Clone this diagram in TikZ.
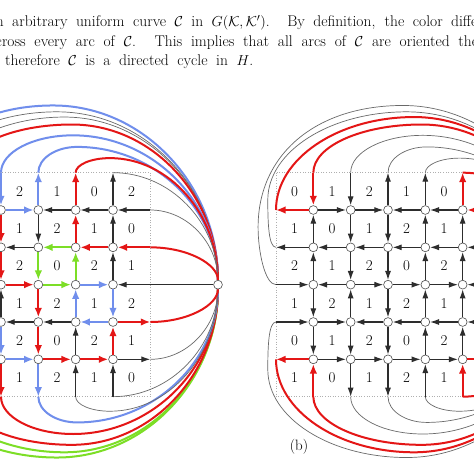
\documentclass[tikz,border=0pt]{standalone}
\usetikzlibrary{arrows.meta}
\definecolor{cred}{RGB}{228,22,22}
\definecolor{cblue}{RGB}{112,142,236}
\definecolor{cgreen}{RGB}{124,222,38}
\definecolor{cblack}{RGB}{45,45,45}
\definecolor{cgrey}{RGB}{105,105,105}
\definecolor{cdot}{RGB}{175,175,175}
\tikzset{
  vtx/.style={circle, draw=cblack!85, fill=white, line width=0.6pt, minimum size=8.8pt, inner sep=0pt},
  eK/.style={draw=cblack, line width=1.1pt, -{Latex[length=9pt,width=6pt]}},
  eR/.style={draw=cred, line width=2.2pt, -{Latex[length=9.5pt,width=7.5pt]}},
  eB/.style={draw=cblue, line width=2.2pt, -{Latex[length=9.5pt,width=7.5pt]}},
  eG/.style={draw=cgreen, line width=2.2pt, -{Latex[length=9.5pt,width=7.5pt]}},
  cK/.style={draw=cgrey, line width=0.7pt},
  cR/.style={draw=cred, line width=2pt},
  cB/.style={draw=cblue, line width=2pt},
  cG/.style={draw=cgreen, line width=2pt},
  lbl/.style={font=\fontsize{15}{15}\selectfont, inner sep=0pt},
  txt/.style={font=\fontsize{15.5}{15.5}\selectfont, anchor=base west, inner sep=0pt},
}
\newcommand{\edg}[3]{\draw[#1] (#2) -- (#3);}
\newcommand{\Cell}[3]{\node[lbl] (c#1-#2) at ({#1+0.5},{#2-0.5}) {#3};}
\newcommand{\MakeGrid}{%
  \draw[cdot, line width=0.6pt, dash pattern=on 1pt off 1.6pt] (-2,-1) rectangle (4,5);
  \foreach \i in {-1,...,3} {\coordinate (T\i) at (\i,-1); \coordinate (B\i) at (\i,5);}
  \foreach \j in {0,...,4} {\coordinate (L\j) at (-2,\j); \coordinate (R\j) at (4,\j);}
  \foreach \i in {-1,...,3} {\foreach \j in {0,...,4} {\node[vtx] (v\i-\j) at (\i,\j) {};}}
  \node[vtx] (ap) at (5.8125,2) {};
}
% curve shapes (top)
\newcommand{\cvTthree}[1]{\draw[#1] (T3) .. controls (4.55,-1) and (5.81,0.344) .. (ap);}
\newcommand{\cvTtwo}[1]{\draw[#1] (T2) .. controls (2,-1.215) and (2.41,-1.39) .. (2.92,-1.39) .. controls (4.515,-1.39) and (5.81,0.129) .. (ap);}
\newcommand{\cvTone}[1]{\draw[#1] (T1) .. controls (1,-1.381) and (1.466,-1.69) .. (2.04,-1.69) .. controls (4.121,-1.69) and (5.81,-0.037) .. (ap);}
\newcommand{\cvTzero}[1]{\draw[#1] (T0) .. controls (0,-1.552) and (0.865,-2) .. (1.93,-2) .. controls (4.072,-2) and (5.81,-0.208) .. (ap);}
\newcommand{\cvTm}[1]{\draw[#1] (T-1) .. controls (-1,-1.712) and (0.299,-2.29) .. (1.9,-2.29) .. controls (4.058,-2.29) and (5.81,-0.368) .. (ap);}
\newcommand{\cvLzero}[1]{\draw[#1] (L0) .. controls (-2,-1.374) and (-0.342,-2.49) .. (1.7,-2.49) .. controls (3.969,-2.49) and (5.81,-0.478) .. (ap);}
\newcommand{\cvLone}[1]{\draw[#1] (L1) .. controls (-2.2,1) and (-2.22,0.33) .. (-2.22,-0.27) .. controls (-2.22,-1.573) and (-0.553,-2.63) .. (1.5,-2.63) .. controls (3.879,-2.63) and (5.81,-0.556) .. (ap);}
\newcommand{\cvLtwo}[1]{\draw[#1] (L2) .. controls (-2.3,2) and (-2.48,1.1) .. (-2.48,0.46) .. controls (-2.48,-1.496) and (-0.928,-2.8) .. (1.4,-2.8) .. controls (3.834,-2.8) and (5.81,-0.65) .. (ap);}
\newcommand{\cvRzero}[1]{\draw[#1] (R0) .. controls (5,0) and (5.81,0.896) .. (ap);}
\newcommand{\cvRone}[1]{\draw[#1] (R1) .. controls (5,1) and (5.81,1.448) .. (ap);}
% curve shapes (bottom)
\newcommand{\cvBthree}[1]{\draw[#1] (B3) .. controls (4.55,5) and (5.81,3.656) .. (ap);}
\newcommand{\cvBtwo}[1]{\draw[#1] (B2) .. controls (2,5.215) and (2.41,5.39) .. (2.92,5.39) .. controls (4.515,5.39) and (5.81,3.871) .. (ap);}
\newcommand{\cvBone}[1]{\draw[#1] (B1) .. controls (1,5.381) and (1.466,5.69) .. (2.04,5.69) .. controls (4.121,5.69) and (5.81,4.037) .. (ap);}
\newcommand{\cvBzero}[1]{\draw[#1] (B0) .. controls (0,5.552) and (0.865,6) .. (1.93,6) .. controls (4.072,6) and (5.81,4.208) .. (ap);}
\newcommand{\cvBm}[1]{\draw[#1] (B-1) .. controls (-1,5.712) and (0.299,6.29) .. (1.9,6.29) .. controls (4.058,6.29) and (5.81,4.368) .. (ap);}
\newcommand{\cvLfour}[1]{\draw[#1] (L4) .. controls (-2,5.374) and (-0.342,6.49) .. (1.7,6.49) .. controls (3.969,6.49) and (5.81,4.478) .. (ap);}
\newcommand{\cvLthree}[1]{\draw[#1] (L3) .. controls (-2.2,3) and (-2.22,3.67) .. (-2.22,4.27) .. controls (-2.22,5.573) and (-0.553,6.63) .. (1.5,6.63) .. controls (3.879,6.63) and (5.81,4.556) .. (ap);}
\newcommand{\cvRfour}[1]{\draw[#1] (R4) .. controls (5,4) and (5.81,3.104) .. (ap);}
\newcommand{\cvRthree}[1]{\draw[#1] (R3) .. controls (5,3) and (5.81,2.552) .. (ap);}

\begin{document}
\begin{tikzpicture}[x=1pt,y=-1pt]
\useasboundingbox (0,0) rectangle (474,474);
\clip (0,0) rectangle (474,474);
\fill[white] (0,0) rectangle (474,474);

\node[txt] (t1) at (-11.5,26.5) {\hbox to 521pt{an arbitrary uniform curve $\mathcal{C}$ in $G(\mathcal{K},\mathcal{K}')$. By definition, the color difference}};
\node[txt] (t2) at (-11.6,46) {\hbox to 489.6pt{across every arc of $\mathcal{C}$. This implies that all arcs of $\mathcal{C}$ are oriented the}};
\node[txt] (t3) at (5,65.5) {\hbox to 248pt{therefore $\mathcal{C}$ is a directed cycle in $H$.}};
\node[font=\fontsize{15}{15}\selectfont, inner sep=0pt] (lb) at (299,447) {(b)};

% ---------------- left graph ----------------
\begin{scope}[shift={(1,210)}, x=37.333pt, y=-37.333pt, name prefix=a-]
\MakeGrid
\foreach \row [count=\r from 0] in {{2,1,0,2},{1,2,1,0},{2,0,2,1},{1,2,1,2},{2,0,2,1},{1,2,1,0}}
  {\foreach \v [count=\c from 0] in \row {\Cell{\c}{\r}{\v}}}
% curves
\cvLtwo{cB} \cvLone{cK} \cvLzero{cK} \cvTm{cR} \cvTzero{cB} \cvTone{cB} \cvTtwo{cR} \cvTthree{cK} \cvRzero{cK} \cvRone{cR}
\cvLthree{cG} \cvLfour{cG} \cvBm{cR} \cvBzero{cR} \cvBone{cB} \cvBtwo{cK} \cvBthree{cK} \cvRfour{cK} \cvRthree{cR}
% horizontal
\edg{eB}{v0-0}{v1-0} \edg{eK}{v2-0}{v1-0} \edg{eK}{v3-0}{v2-0} \edg{eK}{R0}{v3-0}
\edg{eK}{v1-1}{v0-1} \edg{eG}{v2-1}{v1-1} \edg{eR}{v3-1}{v2-1} \edg{eR}{R1}{v3-1}
\edg{eR}{v0-2}{v1-2} \edg{eG}{v1-2}{v2-2} \edg{eB}{v2-2}{v3-2} \edg{eK}{ap}{v3-2}
\edg{eK}{v1-3}{v0-3} \edg{eK}{v2-3}{v1-3} \edg{eB}{v3-3}{v2-3} \edg{eR}{v3-3}{R3}
\edg{eB}{v0-4}{v1-4} \edg{eR}{v1-4}{v2-4} \edg{eR}{v2-4}{v3-4} \edg{eK}{v3-4}{R4}
% vertical
\edg{eB}{T0}{v0-0} \edg{eR}{v0-0}{v0-1} \edg{eR}{v0-1}{v0-2} \edg{eK}{v0-3}{v0-2} \edg{eB}{v0-3}{v0-4} \edg{eR}{v0-4}{B0}
\edg{eB}{v1-0}{T1} \edg{eK}{v1-0}{v1-1} \edg{eG}{v1-1}{v1-2} \edg{eR}{v1-2}{v1-3} \edg{eR}{v1-3}{v1-4} \edg{eB}{v1-4}{B1}
\edg{eR}{v2-0}{T2} \edg{eR}{v2-1}{v2-0} \edg{eG}{v2-2}{v2-1} \edg{eB}{v2-3}{v2-2} \edg{eK}{v2-4}{v2-3} \edg{eK}{B2}{v2-4}
\edg{eK}{v3-0}{T3} \edg{eK}{v3-1}{v3-0} \edg{eK}{v3-2}{v3-1} \edg{eB}{v3-2}{v3-3} \edg{eR}{v3-4}{v3-3} \edg{eK}{B3}{v3-4}
\end{scope}

% ---------------- right graph ----------------
\begin{scope}[shift={(350.667,210)}, x=37.333pt, y=-37.333pt, name prefix=b-]
\MakeGrid
\foreach \row [count=\r from 0] in {{0,1,2,1,0},{1,0,1,2,1},{2,1,2,0,2},{1,2,1,2,1},{0,1,2,0,2},{1,0,1,2,1}}
  {\foreach \v [count=\c from -2] in \row {\Cell{\c}{\r}{\v}}}
% curves
\cvLtwo{cK} \cvLone{cK} \cvLzero{cR} \cvTm{cR} \cvTzero{cK} \cvTone{cK} \cvTtwo{cK} \cvTthree{cR}
\cvLthree{cK} \cvLfour{cR} \cvBm{cR} \cvBzero{cK} \cvBone{cK} \cvBtwo{cK} \cvBthree{cR}
% horizontal
\edg{eR}{v-1-0}{L0} \edg{eK}{v-1-0}{v0-0} \edg{eK}{v0-0}{v1-0} \edg{eK}{v2-0}{v1-0} \edg{eK}{v3-0}{v2-0} \edg{eR}{R0}{v3-0}
\edg{eK}{v-1-1}{L1} \edg{eK}{v0-1}{v-1-1} \edg{eK}{v1-1}{v0-1} \edg{eK}{v2-1}{v1-1} \edg{eK}{v3-1}{v2-1} \edg{eK}{R1}{v3-1}
\edg{eK}{L2}{v-1-2} \edg{eK}{v0-2}{v-1-2} \edg{eK}{v0-2}{v1-2} \edg{eK}{v1-2}{v2-2} \edg{eK}{v2-2}{v3-2} \edg{eK}{ap}{v3-2}
\edg{eK}{L3}{v-1-3} \edg{eK}{v-1-3}{v0-3} \edg{eK}{v1-3}{v0-3} \edg{eK}{v2-3}{v1-3} \edg{eK}{v3-3}{v2-3} \edg{eK}{R3}{v3-3}
\edg{eR}{v-1-4}{L4} \edg{eK}{v-1-4}{v0-4} \edg{eK}{v0-4}{v1-4} \edg{eK}{v1-4}{v2-4} \edg{eK}{v2-4}{v3-4} \edg{eR}{v3-4}{R4}
% vertical
\edg{eR}{T-1}{v-1-0} \edg{eK}{v-1-1}{v-1-0} \edg{eK}{v-1-2}{v-1-1} \edg{eK}{v-1-2}{v-1-3} \edg{eK}{v-1-3}{v-1-4} \edg{eR}{B-1}{v-1-4}
\edg{eK}{T0}{v0-0} \edg{eK}{v0-0}{v0-1} \edg{eK}{v0-1}{v0-2} \edg{eK}{v0-3}{v0-2} \edg{eK}{v0-3}{v0-4} \edg{eK}{v0-4}{B0}
\edg{eK}{v1-0}{T1} \edg{eK}{v1-0}{v1-1} \edg{eK}{v1-1}{v1-2} \edg{eK}{v1-2}{v1-3} \edg{eK}{v1-3}{v1-4} \edg{eK}{v1-4}{B1}
\edg{eK}{v2-0}{T2} \edg{eK}{v2-1}{v2-0} \edg{eK}{v2-2}{v2-1} \edg{eK}{v2-3}{v2-2} \edg{eK}{v2-4}{v2-3} \edg{eK}{B2}{v2-4}
\edg{eR}{v3-0}{T3} \edg{eK}{v3-1}{v3-0} \edg{eK}{v3-2}{v3-1} \edg{eK}{v3-3}{v3-2} \edg{eK}{v3-4}{v3-3} \edg{eR}{B3}{v3-4}
\end{scope}
\end{tikzpicture}
\end{document}
